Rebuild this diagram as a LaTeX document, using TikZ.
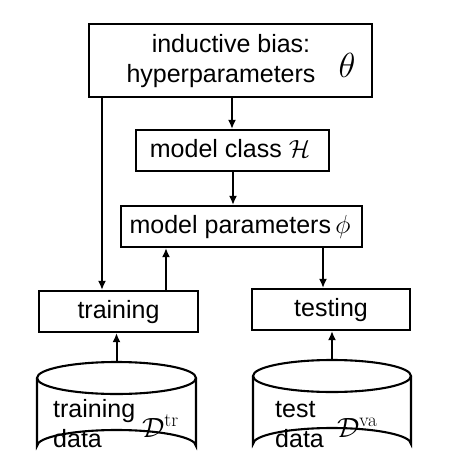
\documentclass[tikz,border=0pt]{standalone}
\usepackage[no-math]{fontspec}
\usepackage{graphicx}
\setmainfont{Liberation Sans}
\usetikzlibrary{arrows.meta}
\begin{document}
\begin{tikzpicture}[x=1pt,y=-1pt,
  box/.style={draw,line width=2.1pt,inner sep=0pt},
  lbl/.style={inner sep=0pt,anchor=base,font=\fontsize{25}{30}\selectfont},
  lbll/.style={inner sep=0pt,anchor=base west,font=\fontsize{25}{30}\selectfont},
  arr/.style={line width=2pt,-{Latex[length=9pt,width=8pt]}},
  cyl/.style={line width=2.1pt}]
\useasboundingbox (0,0) rectangle (474,474);
% boxes
\node[box,minimum width=283pt,minimum height=73pt] (bias) at (230.5,60.5) {};
\node[box,minimum width=193pt,minimum height=41pt] (class) at (232.5,150.5) {};
\node[box,minimum width=241pt,minimum height=41pt] (params) at (241.5,226.5) {};
\node[box,minimum width=159pt,minimum height=41pt] (train) at (118.5,311.5) {};
\node[box,minimum width=158pt,minimum height=41pt] (test) at (331,309.5) {};
% texts
\node[lbl] (t1) at (231,52) {inductive bias:};
\node[lbl] (t2) at (221,82) {hyperparameters};
\node[lbl] (theta) at (347,77) {\scalebox{1.4}{$\theta$}};
\node[lbl] (tclass) at (230,157) {model class $\mathcal{H}$};
\node[lbl] (tparams) at (240,233) {model parameters\,\scalebox{1.05}{$\phi$}};
\node[lbl] (ttrain) at (118.5,318) {training};
\node[lbl] (ttest) at (331,316) {testing};
% cylinders
\draw[cyl] (37,378) -- (37,446) arc[start angle=180,end angle=360,x radius=79.5,y radius=16] -- (196,378);
\draw[cyl] (116.5,378) ellipse[x radius=79.5,y radius=16];
\coordinate (dtr) at (116.5,362);
\draw[cyl] (253,376) -- (253,444) arc[start angle=180,end angle=360,x radius=79,y radius=16] -- (411,376);
\draw[cyl] (332,376) ellipse[x radius=79,y radius=16];
\coordinate (dva) at (332,360);
\node[lbll] (c1) at (53,417) {training};
\node[lbll] (c2) at (53,447) {data};
\node[lbll] (c3) at (142,437) {\scalebox{1.12}{$\mathcal{D}^{\mathrm{tr}}$}};
\node[lbll] (c4) at (275,417) {test};
\node[lbll] (c5) at (275,447) {data};
\node[lbll] (c6) at (337,437) {\scalebox{1.12}{$\mathcal{D}^{\mathrm{va}}$}};
% connectors
\draw[arr] (bias.south -| class.north) ++(-0.5,0) coordinate (a1) (a1) -- (a1 |- class.north);
\draw[arr] (class.south) ++(0.5,0) coordinate (a2) (a2) -- (a2 |- params.north);
\draw[arr] (bias.south -| 102,0) -- (train.north -| 102,0);
\draw[arr] (train.north -| 166,0) -- (params.south -| 166,0);
\draw[arr] (params.south -| 323,0) -- (test.north -| 323,0);
\draw[arr] (dtr) -- (train.south -| dtr);
\draw[arr] (dva) -- (test.south -| dva);
\end{tikzpicture}
\end{document}
